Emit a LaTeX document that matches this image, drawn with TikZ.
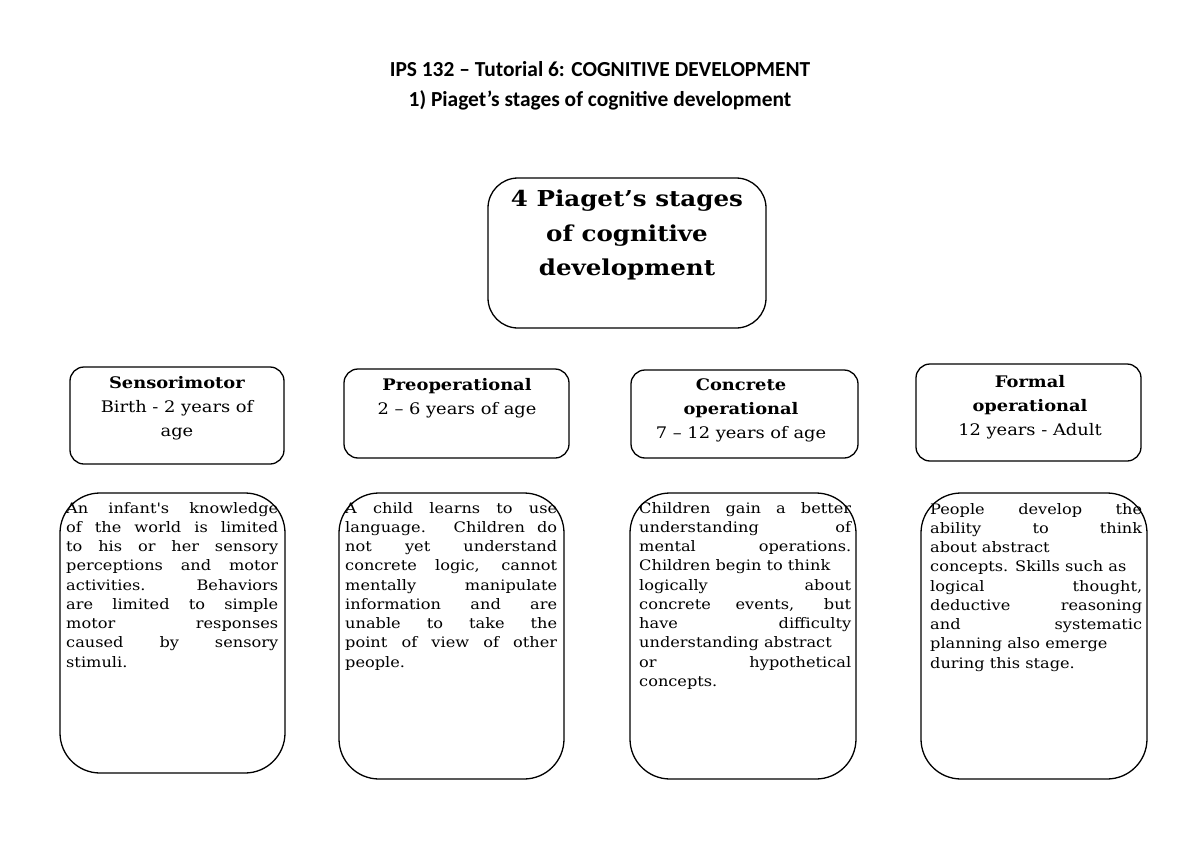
\documentclass[tikz,border=0pt]{standalone}
\usepackage{fontspec}
\setmainfont{DejaVu Serif}
\newfontfamily\descfont[FakeStretch=1.12]{DejaVu Serif}
\newfontfamily\titlefont{Carlito}
\newcommand{\jl}[1]{\makebox[212bp][s]{#1}\\}
\newcommand{\lft}[1]{\makebox[212bp][l]{#1}\\}
\begin{document}
\begin{tikzpicture}[x=1bp,y=-1bp,
  stagebox/.style={draw,line width=1.3bp,rounded corners=14bp},
  descbox/.style={draw,line width=1.3bp,rounded corners=40bp},
  desc/.style={align=left,anchor=north west,inner sep=0pt,font=\descfont\fontsize{14.5}{19.3}\selectfont},
  stagetxt/.style={align=center,font=\descfont\fontsize{16}{24}\selectfont,inner sep=0pt}]
\useasboundingbox (0,0) rectangle (1200,848);
\node[font=\titlefont\bfseries\fontsize{21.5}{30}\selectfont,align=center] (title) at (600,86) {IPS 132 – Tutorial 6: COGNITIVE DEVELOPMENT\\1) Piaget’s stages of cognitive development};
\draw[stagebox,rounded corners=30bp] (488,178) rectangle (766,328);
\node[align=center,font=\descfont\bfseries\fontsize{22}{35}\selectfont] (main) at (627,235) {4 Piaget’s stages\\of cognitive\\development};
\draw[stagebox] (70,367) rectangle (284,464);
\node[stagetxt] (s1) at (177,408) {\textbf{Sensorimotor}\\Birth - 2 years of\\age};
\draw[stagebox] (344,369) rectangle (569,458);
\node[stagetxt] (s2) at (457,398) {\textbf{Preoperational}\\2 – 6 years of age};
\draw[stagebox] (631,370) rectangle (858,458);
\node[stagetxt] (s3) at (741,410) {\textbf{Concrete}\\\textbf{operational}\\7 – 12 years of age};
\draw[stagebox] (916,364) rectangle (1141,461);
\node[stagetxt] (s4) at (1030,407) {\textbf{Formal}\\\textbf{operational}\\12 years - Adult};
\draw[descbox] (60,493) rectangle (285,773);
\draw[descbox] (339,493) rectangle (564,779);
\draw[descbox] (630,493) rectangle (856,779);
\draw[descbox] (921,493) rectangle (1147,779);
\node[desc] (d1) at (66,502) {\jl{An infant's knowledge}\jl{of the world is limited}\jl{to his or her sensory}\jl{perceptions and motor}\jl{activities. \ Behaviors}\jl{are limited to simple}\jl{motor responses}\jl{caused by sensory}\lft{stimuli.}};
\node[desc] (d2) at (345,502) {\jl{A child learns to use}\jl{language. Children do}\jl{not yet understand}\jl{concrete logic, cannot}\jl{mentally manipulate}\jl{information and are}\jl{unable to take the}\jl{point of view of other}\lft{people.}};
\node[desc] (d3) at (639,502) {\jl{Children gain a better}\jl{understanding of}\jl{mental operations.}\lft{Children begin to think}\jl{logically about}\jl{concrete events, but}\jl{have difficulty}\lft{understanding abstract}\jl{or hypothetical}\lft{concepts.}};
\node[desc] (d4) at (930,503) {\jl{People develop the}\jl{ability to think}\lft{about abstract}\lft{concepts. Skills such as}\jl{logical thought,}\jl{deductive reasoning}\jl{and systematic}\lft{planning also emerge}\lft{during this stage.}};
\end{tikzpicture}
\end{document}
